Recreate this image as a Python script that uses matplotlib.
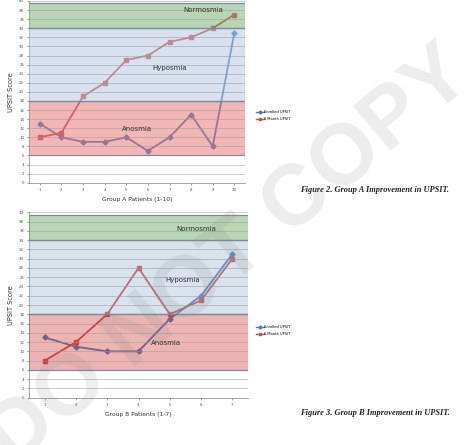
import matplotlib
matplotlib.use('Agg')
import matplotlib.pyplot as plt
from matplotlib.patches import Rectangle
from matplotlib.lines import Line2D

# ── data ────────────────────────────────────────────────────────────────────
group_a_patients = [1, 2, 3, 4, 5, 6, 7, 8, 9, 10]
group_a_enrolled = [13, 10, 9, 9, 10, 7, 10, 15, 8, 33]
group_a_6month = [10, 11, 19, 22, 27, 28, 31, 32, 34, 37]

group_b_patients = [1, 2, 3, 4, 5, 6, 7]
group_b_enrolled = [13, 11, 10, 10, 17, 22, 31]
group_b_6month = [8, 12, 18, 28, 18, 21, 30]

band_names = ['Anosmia', 'Hyposmia', 'Normosmia']
band_limits = [(6, 18), (18, 34), (34, 39.5)]
series_labels = ['Enrolled UPSIT', '6 Month UPSIT']
y_ticks = list(range(0, 41, 2))

BLUE = '#4a7ebb'
RED = '#c9504d'


def draw_chart(ax, patients, enrolled, month6, xlabel, band_faces, band_alpha,
               label_pos, legend_xy):
    fig = ax.figure
    ax.set_xlim(0.5, len(patients) + 0.5)
    ax.set_ylim(0, 40)

    ax.plot(patients, enrolled, color=BLUE, lw=1.3, marker='D', ms=2.6,
            mec=BLUE, zorder=3)
    ax.plot(patients, month6, color=RED, lw=1.3, marker='s', ms=3.0,
            mec=RED, zorder=3)

    # range bands sit over the lines, semi transparent (as in the scan)
    for (lo, hi), face in zip(band_limits, band_faces):
        ax.add_patch(Rectangle((0, lo), 1, hi - lo, transform=ax.get_yaxis_transform(),
                               facecolor=face, alpha=band_alpha, edgecolor='none',
                               zorder=4))
    for y in y_ticks:
        ax.axhline(y, color='#9a9a9a', lw=0.5, alpha=0.7, zorder=5)
    for lo, hi in band_limits:
        ax.axhline(lo, color='#7d8aa0', lw=0.9, zorder=6)
        ax.axhline(hi, color='#7d8aa0', lw=0.9, zorder=6)

    for name, (x, y) in zip(band_names, label_pos):
        ax.text(x, y, name, ha='center', va='center', fontsize=5,
                color='#303030', zorder=7)

    ax.set_yticks(y_ticks)
    ax.set_xticks(patients)
    ax.tick_params(labelsize=2.8, length=1.5, width=0.4, colors='#555555',
                   pad=2)
    for s in ('top', 'right'):
        ax.spines[s].set_visible(False)
    for s in ('left', 'bottom'):
        ax.spines[s].set_color('#999999')
        ax.spines[s].set_linewidth(0.6)
    ax.set_facecolor('white')

    ax.set_xlabel(xlabel, fontsize=4.3, labelpad=4, color='#333333')
    ax.set_ylabel('UPSIT Score', fontsize=4.8, labelpad=4, color='#333333')

    handles = [Line2D([], [], color=BLUE, lw=1.0, marker='D', ms=1.6),
               Line2D([], [], color=RED, lw=1.0, marker='s', ms=1.8)]
    ax.legend(handles, series_labels, loc='upper left',
              bbox_to_anchor=legend_xy, bbox_transform=fig.transFigure,
              fontsize=2.6, frameon=False, handlelength=2.2, handletextpad=0.1,
              labelspacing=1.0, borderpad=0)


fig = plt.figure(figsize=(4.74, 4.45), dpi=100)

ax_a = fig.add_axes([0.0612, 0.5894, 0.456, 0.4084])
draw_chart(ax_a, group_a_patients, group_a_enrolled, group_a_6month,
           'Group A Patients (1-10)',
           band_faces=['#e66e6e', '#b4c5de', '#73af6e'], band_alpha=0.5,
           label_pos=[(5.5, 11.9), (7.0, 25.3), (8.55, 38.0)],
           legend_xy=(254 / 474, 1 - 108 / 445))

ax_b = fig.add_axes([0.0612, 0.1063, 0.462, 0.4166])
draw_chart(ax_b, group_b_patients, group_b_enrolled, group_b_6month,
           'Group B Patients (1-7)',
           band_faces=['#d12929', '#92acce', '#378d2e'], band_alpha=0.35,
           label_pos=[(4.87, 11.7), (5.4, 25.4), (5.85, 36.3)],
           legend_xy=(254 / 474, 1 - 323 / 445))

cap_style = dict(fontsize=6, family='Liberation Serif', style='italic',
                 weight='bold', ha='left', va='center', color='#222222')
fig.text(300 / 474, 1 - 190 / 445, 'Figure 2. Group A Improvement in UPSIT.',
         **cap_style)
fig.text(300 / 474, 1 - 413 / 445, 'Figure 3. Group B Improvement in UPSIT.',
         **cap_style)

# watermark
fig.text(0.485, 0.42, 'DO NOT COPY', rotation=40, ha='center', va='center',
         fontsize=62, family='Liberation Sans', weight='bold', color='#808080',
         alpha=0.14, zorder=10)

fig.savefig('out.png', dpi=100)
